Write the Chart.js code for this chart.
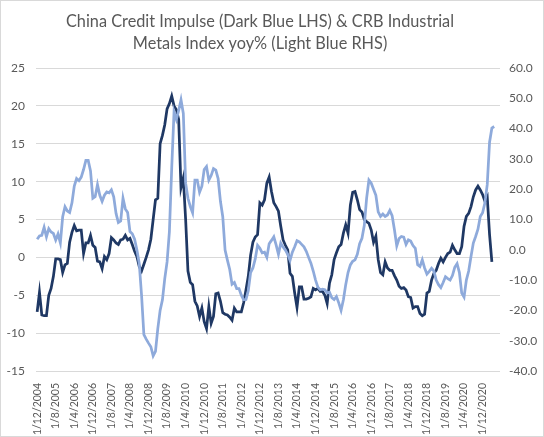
<!DOCTYPE html>
<html>
<head>
<meta charset="utf-8">
<script src="https://cdn.jsdelivr.net/npm/chart.js@4.4.1/dist/chart.umd.min.js"></script>
<style>
  body { margin: 0; background: #fff; }
  #wrap { width: 544px; height: 437px; box-sizing: border-box; border: 1px solid #d9d9d9; background: #fff; position: relative; }
</style>
</head>
<body>
<div id="wrap"><canvas id="chart"></canvas></div>
<script>
// chart title, two lines as in the original
const titleLines = ['China Credit Impulse (Dark Blue LHS) & CRB Industrial', 'Metals Index yoy% (Light Blue RHS)'];

// monthly categories start at 1/12/2004, axis shows every 8th one
const startYear = 2004;
const startMonth = 12;
const monthCount = 200;
const labelEvery = 8;

// China credit impulse, left axis
const creditImpulse = [
  -7.2, -4.6, -7.6, -7.7, -7.7, -5.0, -4.1, -2.5, -0.2, -0.2,
  -0.3, -2.0, -1.0, -0.8, 2.0, 3.3, 4.2, 3.5, 3.6, 3.6,
  0.5, 1.9, 1.9, 2.9, 1.6, 1.3, -0.5, -0.6, -1.5, 0.1,
  -0.3, 0.5, 2.6, 2.3, 1.9, 1.7, 2.3, 2.4, 2.9, 2.3,
  2.5, 1.7, 0.8, 0.1, -1.2, -1.8, -0.9, 0.0, 1.0, 2.4,
  5.0, 7.6, 7.8, 15.0, 16.1, 17.5, 19.6, 20.3, 21.3, 20.0,
  19.5, 18.2, 9.2, 10.5, 5.0, -1.8, -3.3, -3.6, -5.8, -6.4,
  -7.8, -6.7, -8.5, -9.4, -6.5, -8.7, -7.8, -4.8, -4.7, -5.8,
  -7.3, -7.5, -7.6, -7.9, -8.3, -6.7, -7.2, -7.2, -7.2, -6.0,
  -4.3, -2.5, 0.3, 2.0, 2.7, 3.0, 7.2, 6.9, 7.6, 9.8,
  10.6, 8.7, 7.2, 6.7, 6.1, 4.1, 2.3, 1.6, 1.0, -2.1,
  -2.5, -4.7, -6.6, -3.9, -3.9, -5.5, -5.5, -5.4, -5.2, -4.1,
  -4.3, -4.1, -4.5, -4.5, -5.0, -6.1, -3.4, -2.3, -0.3, 0.6,
  1.4, 1.7, 3.2, 4.3, 3.2, 6.9, 8.6, 8.7, 7.6, 6.3,
  6.0, 5.0, 4.7, 4.5, 3.6, 2.0, 2.8, -0.3, -2.0, -2.3,
  -0.6, -1.4, -1.7, -1.7, -2.4, -3.0, -3.8, -4.1, -4.0, -4.3,
  -5.2, -5.3, -6.7, -6.5, -6.5, -7.4, -7.7, -7.5, -4.7, -4.5,
  -3.0, -2.1, -1.7, -0.8, -0.1, -0.6, 0.0, 0.5, 0.7, 1.6,
  1.0, 0.5, 0.5, 1.4, 4.1, 5.4, 5.8, 6.7, 8.0, 8.9,
  9.4, 8.9, 8.3, 7.4, 8.0, 3.0, -0.6
];

// CRB industrial metals index yoy%, right axis
const crbMetals = [
  3.5, 4.6, 4.8, 7.4, 4.3, 7.0, 5.9, 5.4, 3.2, 5.2,
  2.3, 10.9, 14.2, 12.8, 12.3, 15.5, 21.0, 23.5, 22.8, 24.0,
  26.5, 29.5, 29.5, 26.0, 17.0, 17.5, 21.5, 18.0, 16.0, 18.0,
  19.1, 18.8, 19.8, 17.5, 12.0, 9.0, 9.5, 17.0, 13.5, 12.3,
  6.0, 5.3, 3.5, -0.1, -4.5, -15.0, -28.0, -29.5, -30.8, -32.0,
  -35.0, -33.5, -26.0, -20.0, -16.5, -9.5, -4.0, 6.0, 27.0, 45.5,
  43.0, 46.0, 49.5, 45.0, 22.0, 17.0, 14.3, 12.2, 23.0, 23.0,
  19.0, 21.0, 26.5, 27.5, 23.0, 24.5, 26.8, 26.3, 23.5, 16.0,
  10.9, -0.1, -3.4, -6.5, -11.4, -10.8, -12.8, -12.8, -15.0, -16.5,
  -16.4, -13.5, -7.5, -6.0, -3.0, 1.5, 0.5, -1.0, -0.8, -2.5,
  2.0, 3.1, 4.3, 1.6, -1.5, 2.2, 0.9, -0.1, -1.5, -3.5,
  -0.8, 1.0, 3.0, 2.6, 1.8, 1.0, -0.5, -2.5, -4.4, -7.0,
  -10.0, -12.3, -13.2, -13.0, -13.2, -14.2, -14.0, -15.8, -16.4, -15.4,
  -17.5, -20.0, -16.5, -11.5, -7.5, -5.0, -3.8, -3.3, -1.5, 2.0,
  3.8, 8.0, 17.0, 23.0, 22.0, 20.0, 18.0, 12.5, 11.0, 11.8,
  11.0, 11.5, 13.0, 11.3, 6.6, 1.3, 3.7, 4.4, 4.2, 1.8,
  3.3, 2.9, 1.4, 0.5, -4.9, -5.5, -3.3, -6.0, -8.0, -7.1,
  -6.1, -7.0, -10.0, -11.5, -12.5, -10.8, -8.9, -9.5, -10.0, -8.5,
  -5.8, -4.6, -7.5, -14.3, -15.6, -10.0, -7.0, -2.2, 2.2, 4.4,
  6.8, 11.0, 12.2, 15.5, 21.5, 35.5, 40.2, 40.7
];

const months = [];
for (let k = 0; k < monthCount; k++) {
    const m = (startMonth - 1 + k) % 12 + 1;
    const y = startYear + Math.floor((startMonth - 1 + k) / 12);
    months.push('1/' + m + '/' + y);
}

const grey = '#595959';
const fontName = 'Lato, "Liberation Sans", sans-serif';

// the original title sits a little left of the canvas centre, so draw it ourselves
const titlePlugin = {
    id: 'twoLineTitle',
    afterDraw(chart) {
        const c = chart.ctx;
        c.save();
        c.fillStyle = grey;
        c.font = '16.3px ' + fontName;
        c.textAlign = 'center';
        c.textBaseline = 'middle';
        titleLines.forEach(function (line, k) {
            c.fillText(line, 259, 21 + k * 21.5);
        });
        c.restore();
    }
};

const ctx = document.getElementById('chart').getContext('2d');
new Chart(ctx, {
    type: 'line',
    data: {
        labels: months,
        datasets: [{
            label: 'CRB Industrial Metals Index yoy%',
            data: crbMetals,
            yAxisID: 'y1',
            borderColor: '#8eaadb',
            borderWidth: 2.75,
            pointRadius: 0,
            tension: 0,
            order: 0
        }, {
            label: 'China Credit Impulse',
            data: creditImpulse,
            yAxisID: 'y',
            borderColor: '#1f3864',
            borderWidth: 2.75,
            pointRadius: 0,
            tension: 0,
            order: 1
        }]
    },
    plugins: [titlePlugin],
    options: {
        responsive: true,
        maintainAspectRatio: false,
        animation: false,
        layout: { padding: { left: 0, right: 0, top: 67, bottom: 0 } },
        plugins: {
            legend: { display: false },
            tooltip: { enabled: false },
            title: { display: false }
        },
        scales: {
            x: {
                offset: true,
                grid: { display: false },
                border: { display: false },
                afterFit: function (scale) { scale.height = 65; },
                ticks: {
                    autoSkip: false,
                    minRotation: 90,
                    maxRotation: 90,
                    padding: 4,
                    color: grey,
                    font: { family: fontName, size: 10.5 },
                    callback: function (value, index) {
                        return index % labelEvery === 0 ? this.getLabelForValue(value) : null;
                    }
                }
            },
            y: {
                position: 'left',
                min: -15,
                max: 25,
                afterFit: function (scale) { scale.width = 35; },
                grid: { color: '#d9d9d9', lineWidth: 1, drawTicks: false },
                border: { display: false },
                ticks: {
                    stepSize: 5,
                    padding: 11,
                    color: grey,
                    font: { family: fontName, size: 12 }
                }
            },
            y1: {
                position: 'right',
                min: -40,
                max: 60,
                afterFit: function (scale) { scale.width = 43; },
                grid: { display: false, drawTicks: false },
                border: { display: false },
                ticks: {
                    stepSize: 10,
                    padding: 9,
                    color: grey,
                    font: { family: fontName, size: 12 },
                    callback: function (value) { return value.toFixed(1); }
                }
            }
        }
    }
});
</script>
</body>
</html>
